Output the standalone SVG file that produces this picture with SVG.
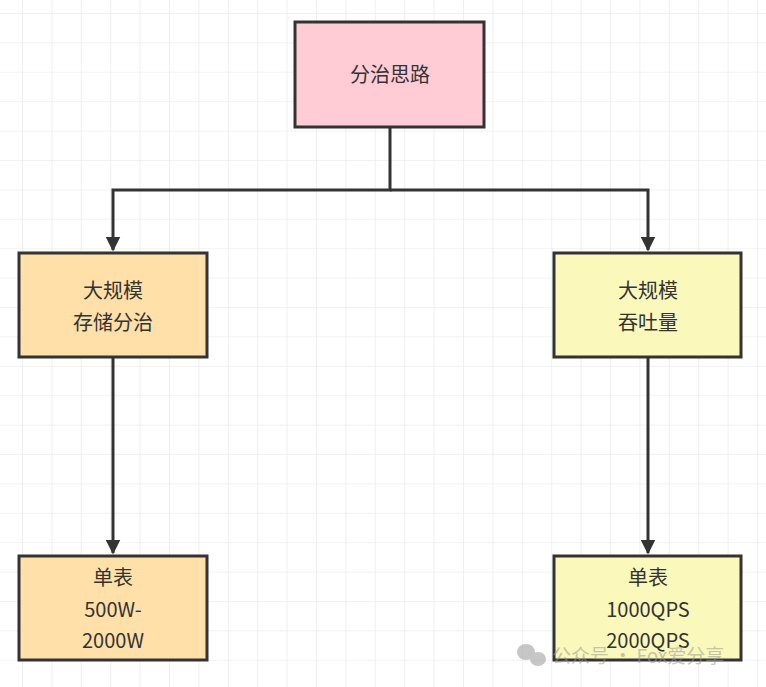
<svg xmlns="http://www.w3.org/2000/svg" width="766" height="687" viewBox="0 0 766 687">
<defs>
<pattern id="grid" x="22" y="13" width="29.4" height="29.4" patternUnits="userSpaceOnUse">
<path d="M0 0H29.4M0 0V29.4" fill="none" stroke="#e6e6e6" stroke-width="1.2"/>
</pattern>
<marker id="arr" viewBox="0 0 10 10" refX="9" refY="5" markerWidth="5" markerHeight="5" orient="auto" markerUnits="strokeWidth">
<path d="M0 0L10 5L0 10Z" fill="#333"/>
</marker>
<style>
.box{stroke:#333;stroke-width:3}
.t{font-family:"Noto Sans CJK SC","Noto Sans",sans-serif;font-size:20px;fill:#333;text-anchor:middle}
.c{fill:none;stroke:#333;stroke-width:3}
</style>
</defs>
<rect width="766" height="687" fill="#fff"/>
<rect width="766" height="687" fill="url(#grid)"/>
<g id="connectors">
<path class="c" d="M390 127V190H113V250" marker-end="url(#arr)"/>
<path class="c" d="M390 190H648V250" marker-end="url(#arr)"/>
<path class="c" d="M113 357V553" marker-end="url(#arr)"/>
<path class="c" d="M648 357V553" marker-end="url(#arr)"/>
</g>
<g id="root"><rect class="box" x="295" y="22" width="189" height="105" fill="#ffccd5"/><text class="t" x="390" y="82">分治思路</text></g>
<g id="storage"><rect class="box" x="19" y="253" width="188" height="104" fill="#ffe0a8"/><text class="t" x="113" y="298">大规模</text><text class="t" x="113" y="330">存储分治</text></g>
<g id="throughput"><rect class="box" x="554" y="253" width="187" height="104" fill="#fbf8bb"/><text class="t" x="648" y="298">大规模</text><text class="t" x="648" y="330">吞吐量</text></g>
<g id="table1"><rect class="box" x="19" y="556" width="188" height="104" fill="#ffe0a8"/><text class="t" x="113" y="585">单表</text><text class="t" x="113" y="617">500W-</text><text class="t" x="113" y="648">2000W</text></g>
<g id="table2"><rect class="box" x="554" y="556" width="187" height="104" fill="#fbf8bb"/><text class="t" x="648" y="585">单表</text><text class="t" x="648" y="617">1000QPS</text><text class="t" x="648" y="648">2000QPS</text></g>
<g id="watermark" opacity="0.55">
<ellipse cx="526" cy="652" rx="9" ry="8" fill="#999"/><ellipse cx="538" cy="659" rx="8" ry="7" fill="#999"/>
<text x="552" y="663" font-family="Noto Sans CJK SC,sans-serif" font-size="19" fill="#999">公众号 · Fox爱分享</text>
</g>
</svg>
